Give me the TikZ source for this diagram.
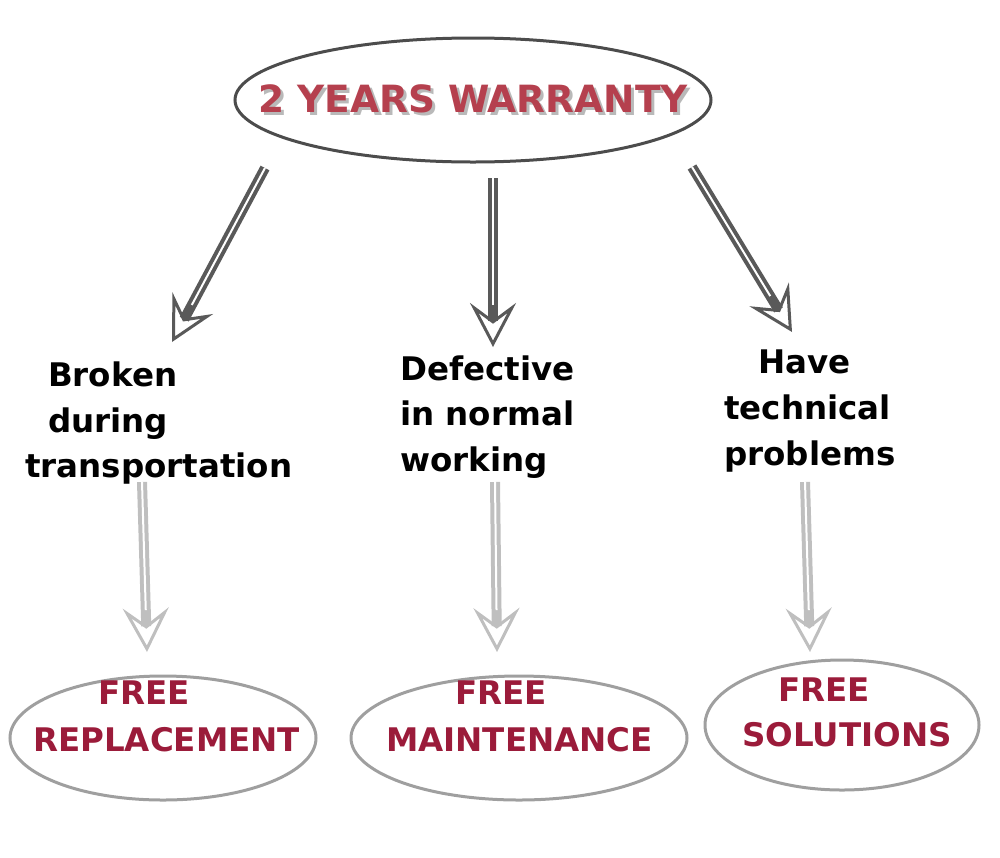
\documentclass[tikz,border=0pt]{standalone}
\usepackage{fontspec}
\setmainfont{DejaVu Sans}
\usetikzlibrary{arrows.meta,shapes.geometric}
\definecolor{wine}{HTML}{9B1B3A}
\definecolor{warr}{HTML}{B5404E}
\begin{document}
\begin{tikzpicture}[x=1pt,y=-1pt,
  oval/.style={ellipse,draw=gray!75,line width=3pt,inner sep=0pt},
  lbl/.style={font=\fontsize{32.5}{32}\selectfont\bfseries,anchor=base west,inner sep=0pt},
  free/.style={font=\fontsize{32.5}{32}\selectfont\bfseries,text=wine,anchor=base west,inner sep=0pt},
  arr/.style={draw=gray!70!black,line width=10pt,-{Stealth[open,length=44pt,width=46pt,inset=17pt,line width=3pt]}},
  inner/.style={draw=white,line width=2pt,shorten >=42pt}]
\useasboundingbox (0,0) rectangle (1000,857);
\node[oval,draw=gray!60!black,minimum width=476pt,minimum height=124pt] (top) at (473,100) {};
\node[font=\fontsize{37.5}{37}\selectfont\bfseries,text=warr] (tt) at (473,100)
  {\makebox[0pt][l]{\hspace{3pt}\raisebox{-3pt}{\textcolor{gray!55}{2 YEARS WARRANTY}}}2 YEARS WARRANTY};
\node[oval,minimum width=306pt,minimum height=124pt] (b1) at (163,738) {};
\node[oval,minimum width=336pt,minimum height=124pt] (b2) at (519,738) {};
\node[oval,minimum width=274pt,minimum height=130pt] (b3) at (842,725) {};
\node[free] (f1) at (98,704) {FREE};
\node[free] (r1) at (33,751) {REPLACEMENT};
\node[free] (f2) at (455,704) {FREE};
\node[free] (r2) at (386,751) {MAINTENANCE};
\node[free] (f3) at (778,701) {FREE};
\node[free] (r3) at (742,746) {SOLUTIONS};
\node[lbl] (a1) at (48,386) {Broken};
\node[lbl] (a2) at (48,432) {during};
\node[lbl] (a3) at (25,477) {transportation};
\node[lbl] (c1) at (400,380) {Defective};
\node[lbl] (c2) at (400,425) {in normal};
\node[lbl] (c3) at (400,471) {working};
\node[lbl] (d1) at (758,373) {Have};
\node[lbl] (d2) at (724,419) {technical};
\node[lbl] (d3) at (724,465) {problems};
\coordinate (s1) at (265,168); \coordinate (e1) at (172,342);
\coordinate (s2) at (493,178); \coordinate (e2) at (493,347);
\coordinate (s3) at (692,167); \coordinate (e3) at (792,332);
\coordinate (t1) at (142,482); \coordinate (g1) at (147,652);
\coordinate (t2) at (495,482); \coordinate (g2) at (497,652);
\coordinate (t3) at (805,482); \coordinate (g3) at (810,652);
\foreach \s/\e in {s1/e1,s2/e2,s3/e3}{
  \draw[arr] (\s) -- (\e);
  \draw[inner] (\s) -- (\e);}
\foreach \s/\e in {t1/g1,t2/g2,t3/g3}{
  \draw[arr,draw=gray!50] (\s) -- (\e);
  \draw[inner] (\s) -- (\e);}
\end{tikzpicture}
\end{document}
